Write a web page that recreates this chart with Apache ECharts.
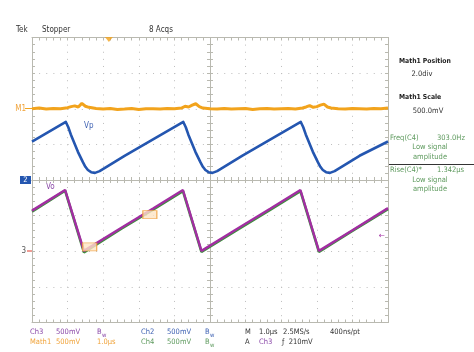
<!DOCTYPE html>
<html><head><meta charset="utf-8">
<script src="https://cdn.jsdelivr.net/npm/echarts@6/dist/echarts.min.js"></script>
<style>html,body{margin:0;padding:0;background:#fff}#c{width:474px;height:352px}</style>
</head><body><div id="c"></div>
<script>
// time in µs (1 µs/div), amplitude in divisions (center = 0)
const m1T = [0,0.2,0.4,0.6,0.8,1.0,1.1,1.2,1.3,1.4,1.5,1.6,1.8,2.0,2.2,2.4,2.6,2.8,3.0,3.2,3.4,3.6,3.8,4.0,4.2,4.3,4.4,4.5,4.6,4.7,4.8,5.0,5.2,5.4,5.6,5.8,6.0,6.2,6.4,6.6,6.8,7.0,7.2,7.4,7.6,7.7,7.8,7.9,8.0,8.1,8.2,8.3,8.4,8.6,8.8,9.0,9.2,9.4,9.6,9.8,10];
const m1V = [2.00,2.02,1.99,2.01,2.00,2.03,2.06,2.08,2.05,2.15,2.07,2.04,2.01,1.99,2.01,1.98,1.99,2.01,1.98,2.00,2.00,1.99,2.01,2.00,2.02,2.07,2.05,2.10,2.14,2.06,2.02,2.00,1.99,2.01,1.99,2.00,2.01,1.98,2.00,2.01,1.99,2.00,2.01,1.99,2.02,2.05,2.09,2.04,2.06,2.10,2.13,2.05,2.02,2.00,1.99,2.01,2.00,1.99,2.01,2.00,2.02];

const vpT = [0,0.95,1.02,1.09,1.29,1.43,1.50,1.57,1.66,1.77,1.9,2.6,3.4,4.25,4.32,4.39,4.59,4.73,4.80,4.87,4.96,5.07,5.2,5.9,6.7,7.55,7.62,7.69,7.89,8.03,8.10,8.17,8.26,8.37,8.5,9.2,10];
const vpV = [1.08,1.63,1.48,1.28,0.79,0.50,0.37,0.28,0.22,0.20,0.25,0.68,1.14,1.63,1.48,1.28,0.79,0.50,0.37,0.28,0.22,0.20,0.25,0.68,1.14,1.63,1.48,1.28,0.79,0.50,0.37,0.28,0.22,0.20,0.25,0.68,1.08];

const voT = [0,0.93,1.46,2.5,3.4,4.24,4.76,5.8,6.7,7.54,8.06,9.0,10];
const voV = [-0.86,-0.28,-1.99,-1.35,-0.80,-0.28,-1.99,-1.35,-0.80,-0.28,-1.99,-1.41,-0.79];

const c4T = [0,0.93,1.46,2.5,3.4,4.24,4.76,5.8,6.7,7.54,8.06,9.0,10];
const c4V = [-0.89,-0.30,-2.03,-1.37,-0.83,-0.31,-2.02,-1.38,-0.83,-0.31,-2.02,-1.43,-0.82];

const cursorT = [1.62,3.31];
const cursorV = [-1.88,-0.97];

const trigT = [2.16];
const trigV = [4];

const pair = (t,v)=>t.map((x,i)=>[x,v[i]]);

const FONT = '"Liberation Sans Narrow","DejaVu Sans Condensed","DejaVu Sans",sans-serif';
const GRID = '#b9b9b0';
const ORANGE='#f2a31c', BLUE='#2456b0', PURPLE='#a22ea2', GREEN='#3f8f3f';
const T_PUR='#8a48a8', T_BLU='#3f62b3', T_ORG='#f0a33a', T_GRN='#5e9a5e';

function ax(pos, offset, split){
  return {type:'value', min:0, max: 10, position:pos, offset:offset,
    interval:1,
    axisLine:{show:true,onZero:false,lineStyle:{color:GRID,width:1}},
    axisTick:{show:true,inside:true,length:3,lineStyle:{color:GRID}},
    minorTick:{show:true,splitNumber:5,length:3,lineStyle:{color:GRID}},
    axisLabel:{show:false},
    splitLine:{show:!!split,lineStyle:{color:'#bdbdbd',type:[1,6.12],width:1}}};
}
const xAxes=[ax('bottom',0,true),ax('top',0),ax('bottom',-142.5),ax('top',-142.5)];
const yAxes=[ax('left',0,true),ax('right',0),ax('left',-178),ax('right',-178)];
yAxes.forEach(a=>{a.min=-4;a.max=4;});

function txt(text,x,y,fill,size,opts){
  opts=opts||{};
  return {type:'text',x:x,y:y,silent:true,style:{text:text,fill:fill,
    font:(opts.bold?'bold ':'')+(size||8)+'px '+FONT,textAlign:opts.align||'left',textVerticalAlign:'middle'}};
}
function bw(x,y,fill){ return [txt('B',x,y,fill,7.5), txt('w',x+5,y+3,fill,6)]; }

const S=7.5;
const graphics = [
  txt('Tek',16,30,'#333',8), txt('Stopper',42,30,'#333',8), txt('8 Acqs',149,30,'#333',8),
  // left channel markers
  txt('M1',26,109,T_ORG,8,{align:'right'}),
  {type:'line',shape:{x1:25,y1:108.5,x2:32,y2:108.5},style:{stroke:ORANGE,lineWidth:1}},
  {type:'rect',shape:{x:20,y:176,width:11,height:8},style:{fill:BLUE}},
  txt('2',25.5,180,'#fff',7.5,{align:'center'}),
  txt('3',26,251,'#555',8,{align:'right'}),
  {type:'line',shape:{x1:27,y1:251,x2:32,y2:251},style:{stroke:'#e03a2a',lineWidth:1}},
  // trace labels
  txt('Vp',84,126,T_BLU,8), txt('Vo',46,187,T_PUR,8),
  txt('←',379,236,PURPLE,8),
  // right panel
  txt('Math1 Position',399,61,'#222',6.8,{bold:true}),
  txt('2.0div',422,74.5,'#333',S,{align:'center'}),
  txt('Math1 Scale',399,97,'#222',6.8,{bold:true}),
  txt('500.0mV',428,111,'#333',S,{align:'center'}),
  txt('Freq(C4)',390,138,T_GRN,S), txt('303.0Hz',437,138,T_GRN,S),
  txt('Low signal',430,147.5,T_GRN,S,{align:'center'}), txt('amplitude',430,157,T_GRN,S,{align:'center'}),
  {type:'line',shape:{x1:388,y1:164.5,x2:474,y2:164.5},style:{stroke:'#333',lineWidth:1}},
  txt('Rise(C4)*',390,170,T_GRN,S), txt('1.342µs',437,170,T_GRN,S),
  txt('Low signal',430,180,T_GRN,S,{align:'center'}), txt('amplitude',430,189.5,T_GRN,S,{align:'center'}),
  // bottom readouts
  txt('Ch3',30,332,T_PUR,S), txt('500mV',56,332,T_PUR,S), ...bw(97,332,T_PUR),
  txt('Ch2',141,332,T_BLU,S), txt('500mV',167,332,T_BLU,S), ...bw(205,332,T_BLU),
  txt('M',245,332,'#333',S), txt('1.0µs',259,332,'#333',S), txt('2.5MS/s',283,332,'#333',S), txt('400ns/pt',330,332,'#333',S),
  txt('Math1',30,342.5,T_ORG,S), txt('500mV',56,342.5,T_ORG,S), txt('1.0µs',97,342.5,T_ORG,S),
  txt('Ch4',141,342.5,T_GRN,S), txt('500mV',167,342.5,T_GRN,S), ...bw(205,342.5,T_GRN),
  txt('A',245,342.5,'#333',S), txt('Ch3',259,342.5,T_PUR,S), txt('ƒ  210mV',282,342.5,'#333',S)
];

const chart = echarts.init(document.getElementById('c'),null,{renderer:'canvas'});
chart.setOption({
  animation:false,
  backgroundColor:'#fff',
  grid:{left:32,right:86,top:37.5,bottom:29.5,show:false},
  xAxis:xAxes, yAxis:yAxes,
  series:[
    {type:'line',data:pair(m1T,m1V),showSymbol:false,lineStyle:{color:ORANGE,width:3},z:3},
    {type:'line',data:pair(vpT,vpV),showSymbol:false,lineStyle:{color:BLUE,width:2.6,join:'round'},z:3},
    {type:'line',data:pair(c4T,c4V),showSymbol:false,lineStyle:{color:GREEN,width:2.6},z:3},
    {type:'line',data:pair(voT,voV),showSymbol:false,lineStyle:{color:PURPLE,width:2.4},z:4},
    {type:'scatter',data:pair(cursorT,cursorV),symbol:'rect',symbolSize:[14,8],
      itemStyle:{color:'#fde3c4',borderColor:'#f0a040',borderWidth:1},z:5},
    {type:'scatter',data:pair(trigT,trigV),symbol:'triangle',symbolRotate:180,symbolSize:[8,5],symbolOffset:[0,2],
      itemStyle:{color:ORANGE},z:5}
  ],
  graphic:graphics
});
</script></body></html>
